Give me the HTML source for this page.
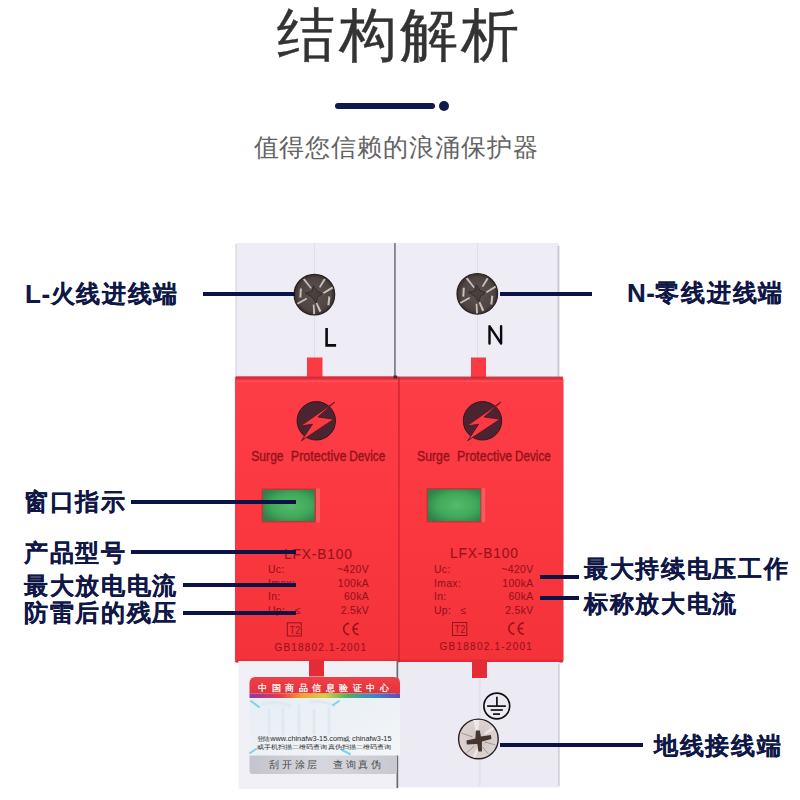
<!DOCTYPE html>
<html><head><meta charset="utf-8">
<style>
*{margin:0;padding:0;box-sizing:border-box}
html,body{width:800px;height:800px;overflow:hidden;background:#fff;font-family:"Liberation Sans",sans-serif}
.a{position:absolute}
.title{left:0;width:800px;top:-5px;text-align:center;font-size:58px;letter-spacing:3.3px;color:#333;line-height:80px;-webkit-text-stroke:0.4px #333}
.sub{left:-4px;width:800px;top:130px;text-align:center;font-size:25px;letter-spacing:0.9px;color:#636363;line-height:34px}
.lbl{font-size:24px;letter-spacing:1.7px;font-weight:bold;color:#0f1747;line-height:30px;white-space:nowrap;-webkit-text-stroke:0.1px #0f1747}
.lat{font-size:26px;letter-spacing:0.5px;vertical-align:top;line-height:30px}
.ln{background:#0b1245;height:4px}
svg{position:absolute;left:0;top:0}
</style></head><body>
<div class="a title">结构解析</div>
<div class="a" style="left:335px;top:103px;width:100px;height:6px;border-radius:3px;background:#0e1a4f"></div>
<div class="a" style="left:439px;top:101px;width:10px;height:10px;border-radius:50%;background:#0e1a4f"></div>
<div class="a sub">值得您信赖的浪涌保护器</div>

<svg width="800" height="800" viewBox="0 0 800 800">
<defs>
  <radialGradient id="scrD" cx="0.5" cy="0.5" r="0.55">
    <stop offset="0" stop-color="#5c5250"/>
    <stop offset="0.75" stop-color="#4e4442"/>
    <stop offset="1" stop-color="#2a2220"/>
  </radialGradient>
  <radialGradient id="scrL" cx="0.5" cy="0.5" r="0.6">
    <stop offset="0" stop-color="#cfc4c2"/>
    <stop offset="0.8" stop-color="#ddd3d2"/>
    <stop offset="1" stop-color="#8a7c7a"/>
  </radialGradient>
  <linearGradient id="redG" x1="0" y1="0" x2="0" y2="1">
    <stop offset="0" stop-color="#fd3d47"/>
    <stop offset="0.5" stop-color="#fb3840"/>
    <stop offset="1" stop-color="#f3323a"/>
  </linearGradient>
  <linearGradient id="stkR" x1="0" y1="0" x2="0" y2="1">
    <stop offset="0" stop-color="#ee4046"/>
    <stop offset="1" stop-color="#e2343a"/>
  </linearGradient>
  <linearGradient id="rainbow" x1="0" y1="0" x2="1" y2="0">
    <stop offset="0" stop-color="#8a3aa8"/>
    <stop offset="0.2" stop-color="#e23a4a"/>
    <stop offset="0.35" stop-color="#f2a030"/>
    <stop offset="0.5" stop-color="#d8d040"/>
    <stop offset="0.65" stop-color="#50b060"/>
    <stop offset="0.82" stop-color="#3a88d0"/>
    <stop offset="1" stop-color="#6a4ab0"/>
  </linearGradient>
  <linearGradient id="silver" x1="0" y1="0" x2="1" y2="0">
    <stop offset="0" stop-color="#c4c4cc"/>
    <stop offset="0.5" stop-color="#d6d6de"/>
    <stop offset="1" stop-color="#c8c8d0"/>
  </linearGradient>
  <linearGradient id="holo" x1="0" y1="0" x2="1" y2="1">
    <stop offset="0" stop-color="#e6eef4"/>
    <stop offset="0.6" stop-color="#eef2f6"/>
    <stop offset="1" stop-color="#f4f6f8"/>
  </linearGradient>
  <radialGradient id="grn" cx="0.55" cy="0.5" r="0.65">
    <stop offset="0" stop-color="#56bc6a"/>
    <stop offset="0.6" stop-color="#40a65a"/>
    <stop offset="1" stop-color="#2c8048"/>
  </radialGradient>
  <g id="logo">
    <circle cx="0" cy="0" r="19.2" fill="#4a2430" stroke="#3a1218" stroke-width="1"/>
    <path d="M18.2,-18.6 L1.7,-3.8 L17.6,-1.6 L-14.8,19.9 L-3.8,3.4 L-15.9,5.3 Z" fill="#fb3a44" stroke="#5a1a24" stroke-width="1" stroke-linejoin="miter"/>
  </g>
  <g id="screwDark">
    <circle cx="0" cy="0" r="20.3" fill="url(#scrD)" stroke="#2a2220" stroke-width="1.2"/>
    <g fill="#d6ccc8" opacity="0.9">
      <path d="M-11.5,-15 L-9.8,-16.2 L-2.5,-6.5 L-3.8,-5.8 Z"/>
      <path d="M9.5,-16 L11.3,-15 L6,-6.8 L4.5,-7.6 Z"/>
      <path d="M17.8,-8 L18.8,-6.2 L8,0.2 L7.2,-1.3 Z"/>
      <path d="M14,1.5 L16,2.5 L15,11 L13,10.5 Z"/>
      <path d="M7,16.5 L5,17.6 L1.2,8.5 L2.8,7.8 Z"/>
      <path d="M0.8,19.5 L-1.2,19.6 L-1.6,10 L0,10 Z"/>
      <path d="M-16.5,10 L-17.5,8.4 L-8,3.2 L-7.2,4.6 Z"/>
      <path d="M-14.5,-6 L-12.5,-6 L-13,3 L-15,2.8 Z"/>
    </g>
    <path d="M-9,-1.5 L-2.5,-3 L-1,-9 L3,-3 L9,-1 L3.2,2.2 L1.5,8.5 L-2.2,2.5 Z" fill="#4a403d" stroke="#2e2624" stroke-width="0.8"/>
  </g>
</defs>

<!-- TOP WHITE -->
<rect x="235.5" y="243" width="160" height="137" rx="2" fill="#eeecf5"/>
<rect x="396" y="243" width="163.5" height="137" rx="3" fill="#eeecf5"/>
<rect x="557.5" y="246" width="1.8" height="132" fill="#c9c9d2"/>
<rect x="235.5" y="244" width="1.2" height="135" fill="#d8d8e0"/>
<rect x="394.2" y="243" width="1.5" height="135" fill="#6a6a72"/>
<rect x="314" y="243" width="0.8" height="135" fill="#dcdce4"/>
<rect x="477" y="243" width="0.8" height="135" fill="#dcdce4"/>
<!-- tabs -->
<rect x="307" y="357.5" width="15.5" height="22" fill="#fb3a44"/>
<rect x="471" y="357.5" width="15" height="22" fill="#fb3a44"/>
<!-- screws -->
<use href="#screwDark" x="314.4" y="294.6"/>
<use href="#screwDark" x="477.3" y="293.8"/>
<path d="M326.6,329.3 V345.4 H334.8" fill="none" stroke="#0a0a0a" stroke-width="2.6" stroke-linecap="square"/>
<path d="M489.5,343.5 V326.2 L501.1,343.5 V326.2" fill="none" stroke="#0a0a0a" stroke-width="2.4" stroke-linejoin="round" stroke-linecap="round"/>

<!-- RED -->
<rect x="235" y="376.5" width="164" height="286" rx="1" fill="url(#redG)"/>
<rect x="398.5" y="377.5" width="165" height="285" rx="2.5" fill="url(#redG)"/>
<rect x="236" y="376.5" width="327" height="2.8" fill="#cc2a3a" opacity="0.85"/>
<rect x="237" y="380.8" width="325" height="1" fill="#ff6a70" opacity="0.6"/>
<rect x="236" y="659.8" width="327" height="2.5" fill="#d82a36" opacity="0.7"/>
<rect x="398.3" y="377" width="1.3" height="285" fill="#c8222e"/>
<rect x="393.5" y="375.5" width="3.5" height="3" fill="#333"/>
<!-- left module content -->
<use href="#logo" x="316.3" y="420.8"/>
<use href="#logo" x="482.5" y="420.8"/>
<g fill="#94121c" stroke="#94121c" stroke-width="0.35" font-family="Liberation Sans" font-size="13.8">
  <text x="251.3" y="460.5" textLength="32.30" lengthAdjust="spacingAndGlyphs">Surge</text>
  <text x="290.8" y="460.5" textLength="55.80" lengthAdjust="spacingAndGlyphs">Protective</text>
  <text x="349.2" y="460.5" textLength="36.00" lengthAdjust="spacingAndGlyphs">Device</text>
  <text x="417" y="460.5" textLength="32.80" lengthAdjust="spacingAndGlyphs">Surge</text>
  <text x="457" y="460.5" textLength="55.30" lengthAdjust="spacingAndGlyphs">Protective</text>
  <text x="515" y="460.5" textLength="35.80" lengthAdjust="spacingAndGlyphs">Device</text>
</g>
<!-- windows -->
<rect x="261.5" y="488.5" width="54.5" height="34" fill="#b83a34"/>
<rect x="263" y="490" width="51.5" height="31" fill="url(#grn)"/>
<rect x="316" y="488" width="4" height="35" rx="2" fill="#ff7a80" opacity="0.5"/>
<rect x="426.5" y="488" width="55.5" height="34.5" fill="#b83a34"/>
<rect x="428" y="489.6" width="52.4" height="31.5" fill="url(#grn)"/>
<rect x="481.2" y="487.5" width="4" height="35" rx="2" fill="#ff7a80" opacity="0.5"/>
<g fill="#98121c" stroke="#98121c" stroke-width="0.1" font-family="Liberation Sans">
  <text transform="translate(284,558.5) scale(0.95,1)" font-size="14.5" textLength="71.6" lengthAdjust="spacing">LFX-B100</text>
  <text transform="translate(450,558.2) scale(0.95,1)" font-size="14.5" textLength="71.6" lengthAdjust="spacing">LFX-B100</text>
  <g font-size="10.4" letter-spacing="0.35">
    <text x="268" y="573">Uc:</text>
    <text x="268" y="586.5">Imax:</text>
    <text x="268" y="600">In:</text>
    <text x="268" y="613.6">Up:</text>
    <text x="295" y="613.6">≤</text>
    <text x="369" y="573" text-anchor="end">~420V</text>
    <text x="369" y="586.5" text-anchor="end">100kA</text>
    <text x="369" y="600" text-anchor="end">60kA</text>
    <text x="369" y="613.6" text-anchor="end">2.5kV</text>
    <text x="434" y="573">Uc:</text>
    <text x="434" y="586.5">Imax:</text>
    <text x="434" y="600">In:</text>
    <text x="434" y="613.6">Up:</text>
    <text x="460.5" y="613.6">≤</text>
    <text x="533.5" y="573" text-anchor="end">~420V</text>
    <text x="533.5" y="586.5" text-anchor="end">100kA</text>
    <text x="533.5" y="600" text-anchor="end">60kA</text>
    <text x="533.5" y="613.6" text-anchor="end">2.5kV</text>
  </g>
  <g font-size="11">
    <rect x="287.3" y="622.8" width="14" height="13.2" fill="none" stroke="#98121c" stroke-width="1"/>
    <text x="289.6" y="633.6" font-size="11" textLength="10.6" lengthAdjust="spacingAndGlyphs" stroke-width="0">T2</text>
    <rect x="452.5" y="622.5" width="14.3" height="13" fill="none" stroke="#98121c" stroke-width="1"/>
    <text x="454.6" y="633.3" font-size="11" textLength="10.6" lengthAdjust="spacingAndGlyphs" stroke-width="0">T2</text>
    <path d="M349.2,623.4 A5.6,5.6 0 0 0 349.2,634.6 M358.7,623.4 A5.6,5.6 0 0 0 358.7,634.6 M353.7,629 H357.9" fill="none" stroke="#98121c" stroke-width="1.6"/>
    <path d="M514.4,622.9 A5.6,5.6 0 0 0 514.4,634.1 M523.8,622.9 A5.6,5.6 0 0 0 523.8,634.1 M518.8,628.5 H523.0" fill="none" stroke="#98121c" stroke-width="1.6"/>
  </g>
  <text transform="translate(274.5,650.5) scale(0.88,1)" font-size="11.4" textLength="104" lengthAdjust="spacing">GB18802.1-2001</text>
  <text transform="translate(439.6,650.1) scale(0.88,1)" font-size="11.4" textLength="104.8" lengthAdjust="spacing">GB18802.1-2001</text>
</g>

<!-- BOTTOM WHITE -->
<rect x="238.5" y="661" width="159.5" height="128" fill="#f1f0f6"/>
<rect x="399" y="662" width="161" height="125.5" rx="2" fill="#eceaf2"/>
<rect x="396.5" y="661" width="1.8" height="127" fill="#6a6a72"/>
<rect x="558" y="664" width="1.5" height="122" fill="#cfcfd8"/>
<rect x="479.5" y="662" width="0.8" height="124" fill="#d8d8e0"/>
<rect x="309" y="661" width="15" height="15.5" fill="#e42c36"/>
<rect x="472" y="661" width="15" height="17" fill="#e42c36"/>

<!-- sticker -->
<path d="M249.5,683 Q249.5,677 255.5,677 L394,677 Q400,677 400,683 L400,693.5 L249.5,693.5 Z" fill="url(#stkR)"/>
<text x="258" y="690.8" font-size="9.4" fill="#fff" stroke="#fff" stroke-width="0.25" textLength="131" lengthAdjust="spacing">中国商品信息验证中心</text>
<rect x="249.5" y="693.5" width="150.5" height="4.5" fill="url(#rainbow)"/>
<rect x="249.5" y="698" width="150.5" height="57.5" fill="url(#holo)"/>
<g stroke="#dfe9f2" stroke-width="3" fill="none" opacity="0.9" stroke-linecap="round">
  <path d="M269,710 L269,734 M283,708 L283,734 M299,706 L299,734 M314,710 L314,734 M329,708 L329,734"/>
  <path d="M262,704 Q275,700 290,706 M310,702 Q320,700 335,706"/>
</g>
<g stroke="#7fd3e6" stroke-width="2" fill="none" stroke-linecap="round">
  <path d="M251,701 L259,707 M333,705 L339,701 M250,753 L256,749 M342,750 L350,754"/>
</g>
<g font-size="6.4" fill="#2a2a2a" font-family="Liberation Sans">
  <text x="256.5" y="741" textLength="135" lengthAdjust="spacingAndGlyphs">登陆www.chinafw3-15.com或 chinafw3-15</text>
  <text x="256.5" y="749" textLength="135" lengthAdjust="spacingAndGlyphs">或手机扫描二维码查询真伪扫描二维码查询</text>
</g>
<path d="M249.5,755.5 L397,755.5 L397,771 Q397,774 394,774 L252.5,774 Q249.5,774 249.5,771 Z" fill="url(#silver)"/>
<text x="269" y="768" font-size="9.5" fill="#4a4a4a" textLength="112" lengthAdjust="spacing">刮开涂层　查询真伪</text>

<!-- ground symbol -->
<g stroke="#111" stroke-width="1.7" fill="none">
  <circle cx="496.8" cy="706" r="12.9"/>
  <line x1="496.9" y1="696.8" x2="496.9" y2="706"/>
  <line x1="487.1" y1="706.1" x2="505.9" y2="706.1"/>
  <line x1="490.7" y1="710" x2="502.8" y2="710"/>
  <line x1="493" y1="714.1" x2="500" y2="714.1"/>
</g>
<!-- bottom screw -->
<g transform="translate(478.4,738.9)">
  <circle r="19.8" fill="url(#scrL)" stroke="#2a2020" stroke-width="1.4"/>
  <g fill="#f2ecec" opacity="0.85">
    <path d="M-5,-19 L1,-19 L0,-8 L-3,-8 Z"/>
    <path d="M14,-12 L16,-10 L7,-4 L6,-6 Z"/>
    <path d="M-6,18 L-3,19 L0,11 L-2,10 Z"/>
  </g>
  <path d="M-12,1.5 L-3,-0.5 L-2.5,-8.5 L1.5,-8.5 L2.5,-2.5 L12.5,-4 L13,0 L3.5,2.5 L3.5,12.5 L0,12.5 L-1,5 L-11.5,5.5 Z" fill="#45342f"/>
  <g stroke="#8a7470" stroke-width="0.8" fill="none" opacity="0.8">
    <path d="M-17,-6 L-6,-2 M17,6 L6,3 M-12,14 L-4,7 M10,15 L4,8"/>
  </g>
</g>
</svg>

<!-- labels -->
<div class="a lbl" style="left:25px;top:279px"><span class="lat">L-</span>火线进线端</div>
<div class="a ln" style="left:203px;top:292px;width:92px"></div>
<div class="a lbl" style="left:627px;top:278px"><span class="lat">N-</span>零线进线端</div>
<div class="a ln" style="left:500px;top:292px;width:92px"></div>
<div class="a lbl" style="left:24px;top:487px">窗口指示</div>
<div class="a ln" style="left:131px;top:500px;width:165px"></div>
<div class="a lbl" style="left:24px;top:538px">产品型号</div>
<div class="a ln" style="left:131px;top:550px;width:165px"></div>
<div class="a lbl" style="left:24px;top:571px">最大放电电流</div>
<div class="a ln" style="left:183px;top:583px;width:113px"></div>
<div class="a lbl" style="left:24px;top:598px">防雷后的残压</div>
<div class="a ln" style="left:183px;top:611px;width:113px"></div>
<div class="a lbl" style="left:584px;top:554px">最大持续电压工作</div>
<div class="a ln" style="left:540px;top:575px;width:39px"></div>
<div class="a lbl" style="left:584px;top:589px">标称放大电流</div>
<div class="a ln" style="left:540px;top:596px;width:39px"></div>
<div class="a lbl" style="left:654px;top:731px">地线接线端</div>
<div class="a ln" style="left:500px;top:743px;width:143px"></div>
</body></html>
